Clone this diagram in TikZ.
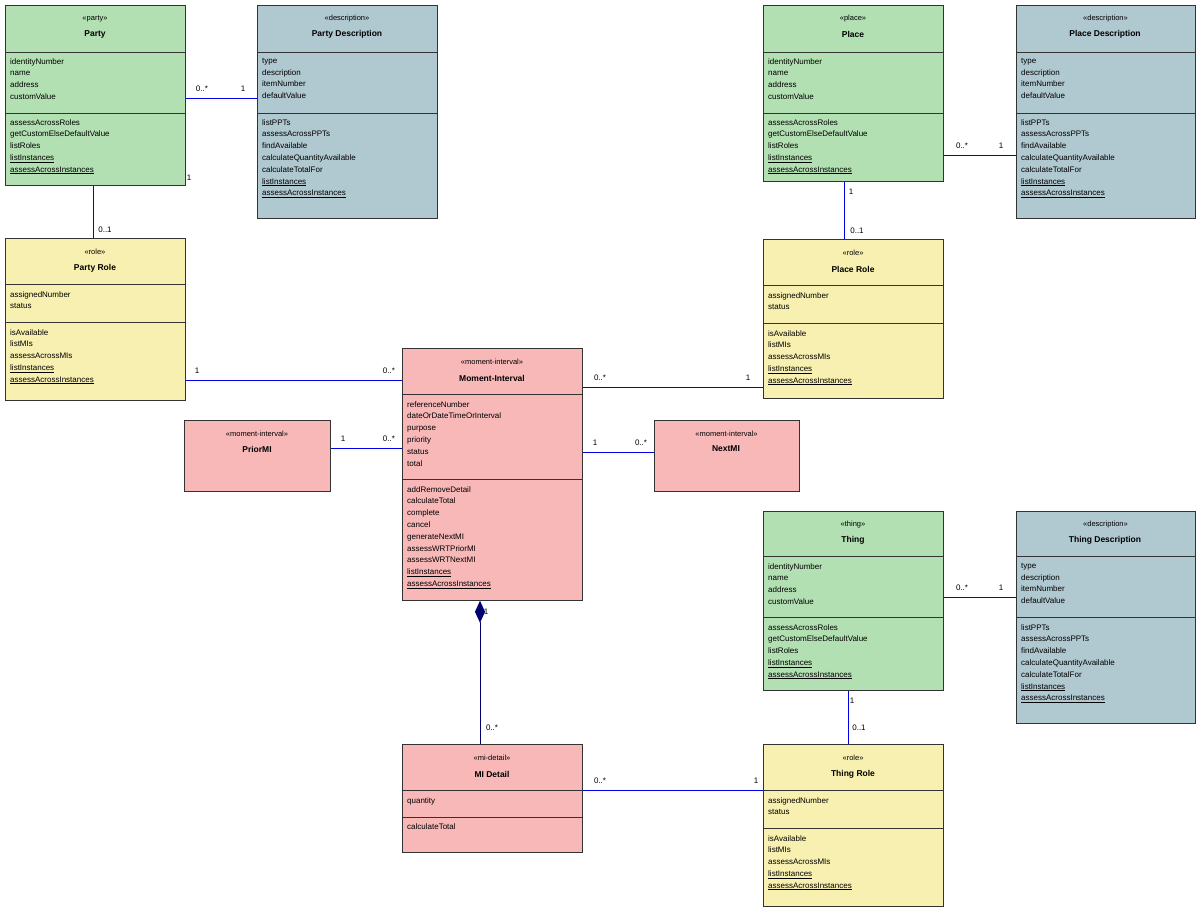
\documentclass[tikz,border=0pt]{standalone}
\usepackage{fontspec}
\setmainfont{Liberation Sans}
\usetikzlibrary{arrows.meta}
\definecolor{cgreen}{RGB}{178,224,178}
\definecolor{cblue}{RGB}{176,200,208}
\definecolor{cyellow}{RGB}{248,240,176}
\definecolor{cpink}{RGB}{248,184,184}
\definecolor{clink}{RGB}{0,0,230}
\definecolor{cnavy}{RGB}{0,0,110}
\tikzset{
  box/.style={draw=black!80, line width=0.8pt, anchor=north west, inner sep=0pt},
  txt/.style={anchor=north west, inner sep=0pt, align=left, font=\fontsize{8}{11.8}\selectfont},
  stereo/.style={font=\fontsize{7.5}{9}\selectfont, inner sep=0pt},
  title/.style={font=\fontsize{8.5}{10}\selectfont\bfseries, inner sep=0pt},
  link/.style={draw=clink, line width=0.8pt},
  mult/.style={font=\fontsize{8}{9}\selectfont, inner sep=0pt},
}
% #1 name, #2 x1, #3 y1, #4 x2, #5 y2, #6 header end, #7 attr end, #8 fill, #9 stereotype
\newcommand\umlbox[9]{%
  \node[box, fill=#8, minimum width={(#4-#2)*1pt}, minimum height={(#5-#3)*1pt}] (#1) at (#2,#3) {};
  \node[stereo] at ({(#2+#4)/2},#3+14) {\guillemotleft #9\guillemotright};
  \ifx\relax#6\relax\else
    \draw[black!80, line width=0.8pt] (#2,#6) -- (#4,#6);
  \fi
  \ifx\relax#7\relax\else
    \draw[black!80, line width=0.8pt] (#2,#7) -- (#4,#7);
  \fi
}
\newcommand\ut[1]{\underline{#1}}
\begin{document}
\begin{tikzpicture}[x=1pt,y=-1pt]
\useasboundingbox (0,0) rectangle (1200,911);
\fill[white] (0,0) rectangle (1200,911);

% Party
\umlbox{party}{5}{5}{185}{185}{52}{113}{cgreen}{party}
\node[title] at (95,34) {Party};
\node[txt] at (10,58) {identityNumber\\name\\address\\customValue};
\node[txt] at (10,119) {assessAcrossRoles\\getCustomElseDefaultValue\\listRoles\\\ut{listInstances}\\\ut{assessAcrossInstances}};

% Party Description
\umlbox{pdesc}{257}{5}{437}{218}{52}{113}{cblue}{description}
\node[title] at (347,34) {Party Description};
\node[txt] at (262,58) {type\\description\\itemNumber\\defaultValue};
\node[txt] at (262,119) {listPPTs\\assessAcrossPPTs\\findAvailable\\calculateQuantityAvailable\\calculateTotalFor\\\ut{listInstances}\\\ut{assessAcrossInstances}};

% Place
\umlbox{place}{763}{5}{943}{181}{52}{113}{cgreen}{place}
\node[title] at (853,34) {Place};
\node[txt] at (768,58) {identityNumber\\name\\address\\customValue};
\node[txt] at (768,119) {assessAcrossRoles\\getCustomElseDefaultValue\\listRoles\\\ut{listInstances}\\\ut{assessAcrossInstances}};

% Place Description
\umlbox{pldesc}{1016}{5}{1195}{218}{52}{113}{cblue}{description}
\node[title] at (1105,34) {Place Description};
\node[txt] at (1021,58) {type\\description\\itemNumber\\defaultValue};
\node[txt] at (1021,119) {listPPTs\\assessAcrossPPTs\\findAvailable\\calculateQuantityAvailable\\calculateTotalFor\\\ut{listInstances}\\\ut{assessAcrossInstances}};

% Party Role
\umlbox{prole}{5}{238}{185}{400}{284}{322}{cyellow}{role}
\node[title] at (95,268) {Party Role};
\node[txt] at (10,291) {assignedNumber\\status};
\node[txt] at (10,329) {isAvailable\\listMIs\\assessAcrossMIs\\\ut{listInstances}\\\ut{assessAcrossInstances}};

% Place Role
\umlbox{plrole}{763}{239}{943}{398}{285}{323}{cyellow}{role}
\node[title] at (853,269) {Place Role};
\node[txt] at (768,292) {assignedNumber\\status};
\node[txt] at (768,330) {isAvailable\\listMIs\\assessAcrossMIs\\\ut{listInstances}\\\ut{assessAcrossInstances}};

% Moment-Interval
\umlbox{mi}{402}{348}{582}{600}{394}{479}{cpink}{moment-interval}
\node[title] at (492,378) {Moment-Interval};
\node[txt] at (407,401) {referenceNumber\\dateOrDateTimeOrInterval\\purpose\\priority\\status\\total};
\node[txt] at (407,486) {addRemoveDetail\\calculateTotal\\complete\\cancel\\generateNextMI\\assessWRTPriorMI\\assessWRTNextMI\\\ut{listInstances}\\\ut{assessAcrossInstances}};

% PriorMI / NextMI
\umlbox{prior}{184}{420}{330}{491}{}{}{cpink}{moment-interval}
\node[title] at (257,449) {PriorMI};
\umlbox{next}{654}{420}{799}{491}{}{}{cpink}{moment-interval}
\node[title] at (726,449) {NextMI};

% Thing
\umlbox{thing}{763}{511}{943}{690}{556}{617}{cgreen}{thing}
\node[title] at (853,540) {Thing};
\node[txt] at (768,563) {identityNumber\\name\\address\\customValue};
\node[txt] at (768,624) {assessAcrossRoles\\getCustomElseDefaultValue\\listRoles\\\ut{listInstances}\\\ut{assessAcrossInstances}};

% Thing Description
\umlbox{tdesc}{1016}{511}{1195}{723}{556}{617}{cblue}{description}
\node[title] at (1105,540) {Thing Description};
\node[txt] at (1021,563) {type\\description\\itemNumber\\defaultValue};
\node[txt] at (1021,624) {listPPTs\\assessAcrossPPTs\\findAvailable\\calculateQuantityAvailable\\calculateTotalFor\\\ut{listInstances}\\\ut{assessAcrossInstances}};

% MI Detail
\umlbox{detail}{402}{744}{582}{852}{790}{817}{cpink}{mi-detail}
\node[title] at (492,774) {MI Detail};
\node[txt] at (407,797) {quantity};
\node[txt] at (407,823) {calculateTotal};

% Thing Role
\umlbox{trole}{763}{744}{943}{906}{790}{828}{cyellow}{role}
\node[title] at (853,774) {Thing Role};
\node[txt] at (768,797) {assignedNumber\\status};
\node[txt] at (768,835) {isAvailable\\listMIs\\assessAcrossMIs\\\ut{listInstances}\\\ut{assessAcrossInstances}};

% connectors
\draw[link] (party.east |- 0,98) -- (pdesc.west |- 0,98);
\node[mult] at (202,89) {0..*}; \node[mult] at (243,89) {1};
\draw[link] (party.south -| 93,0) -- (prole.north -| 93,0);
\node[mult] at (189,178) {1}; \node[mult] at (105,230) {0..1};
\draw[link] (place.east |- 0,155) -- (pldesc.west |- 0,155);
\node[mult] at (962,146) {0..*}; \node[mult] at (1001,146) {1};
\draw[link] (place.south -| 844,0) -- (plrole.north -| 844,0);
\node[mult] at (851,192) {1}; \node[mult] at (857,231) {0..1};
\draw[link] (prole.east |- 0,380) -- (mi.west |- 0,380);
\node[mult] at (197,371) {1}; \node[mult] at (389,371) {0..*};
\draw[link] (mi.east |- 0,387) -- (plrole.west |- 0,387);
\node[mult] at (600,378) {0..*}; \node[mult] at (748,378) {1};
\draw[link] (prior.east |- 0,448) -- (mi.west |- 0,448);
\node[mult] at (343,439) {1}; \node[mult] at (389,439) {0..*};
\draw[link] (mi.east |- 0,452) -- (next.west |- 0,452);
\node[mult] at (595,443) {1}; \node[mult] at (641,443) {0..*};
\draw[cnavy, line width=0.8pt, {Diamond[length=22pt,width=10pt]}-] (mi.south -| 480,0) -- (detail.north -| 480,0);
\node[mult] at (486,612) {1}; \node[mult] at (492,728) {0..*};
\draw[link] (detail.east |- 0,790) -- (trole.west |- 0,790);
\node[mult] at (600,781) {0..*}; \node[mult] at (756,781) {1};
\draw[link] (thing.east |- 0,597) -- (tdesc.west |- 0,597);
\node[mult] at (962,588) {0..*}; \node[mult] at (1001,588) {1};
\draw[link] (thing.south -| 848,0) -- (trole.north -| 848,0);
\node[mult] at (852,701) {1}; \node[mult] at (859,728) {0..1};
\end{tikzpicture}
\end{document}
